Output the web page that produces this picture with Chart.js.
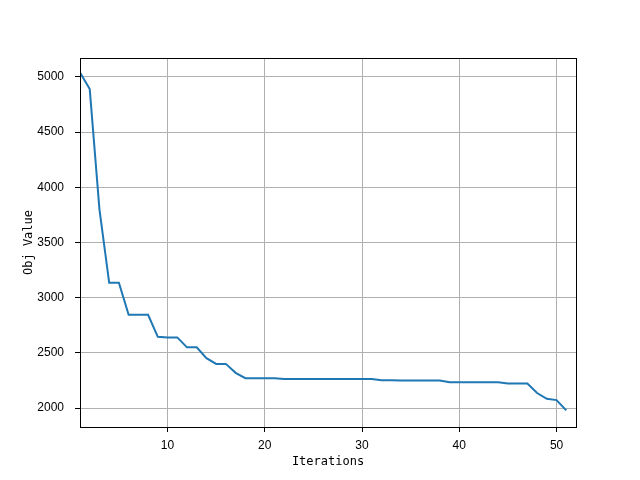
<!DOCTYPE html>
<html>
<head>
<meta charset="utf-8">
<script src="https://cdn.jsdelivr.net/npm/chart.js@4/dist/chart.umd.min.js"></script>
<style>
  html, body { margin: 0; padding: 0; background: #fff; }
  #wrap { width: 640px; height: 480px; }
</style>
</head>
<body>
<div id="wrap"><canvas id="chart-obj" width="640" height="480"></canvas></div>
<script>
// data
const iterations = [1,2,3,4,5,6,7,8,9,10,11,12,13,14,15,16,17,18,19,20,21,22,23,24,25,26,27,28,29,30,31,32,33,34,35,36,37,38,39,40,41,42,43,44,45,46,47,48,49,50,51];
const objValues = [5040,4890,3800,3135,3135,2845,2845,2845,2645,2640,2640,2550,2550,2452,2400,2400,2319,2270,2270,2270,2270,2264,2264,2264,2264,2264,2264,2264,2262,2262,2262,2252,2252,2250,2250,2250,2250,2250,2233,2233,2233,2233,2233,2233,2222,2222,2222,2136,2084,2072,1979];
const xTicks = [10, 20, 30, 40, 50];
const yTicks = [2000, 2500, 3000, 3500, 4000, 4500, 5000];

const tickFont = { family: "'Liberation Sans Narrow', 'Liberation Sans', sans-serif", size: 12 };
const labelFont = { family: "'DejaVu Sans Mono', monospace", size: 12 };

// matplotlib-style box round the plot
const frame = {
  id: 'frame',
  afterDraw(chart) {
    const { ctx, chartArea: a } = chart;
    ctx.save();
    ctx.strokeStyle = '#000';
    ctx.lineWidth = 1;
    ctx.strokeRect(Math.round(a.left) + 0.5, Math.round(a.top) + 0.5, Math.round(a.right - a.left), Math.round(a.bottom - a.top));
    ctx.restore();
  }
};

const ctx = document.getElementById("chart-obj").getContext("2d");
new Chart(ctx, {
  type: "line",
  data: {
    labels: iterations,
    datasets: [{
      label: "Obj Value",
      data: iterations.map((x, i) => ({ x: x, y: objValues[i] })),
      borderColor: "#1f77b4",
      borderWidth: 2,
      pointRadius: 0,
      tension: 0,
      fill: false
    }]
  },
  options: {
    responsive: false,
    animation: false,
    layout: { padding: { top: 58, right: 64, left: 22, bottom: 0 } },
    plugins: { legend: { display: false }, tooltip: { enabled: false } },
    scales: {
      x: {
        type: "linear",
        min: 1,
        max: 52,
        afterBuildTicks: (s) => { s.ticks = xTicks.map(v => ({ value: v })); },
        afterFit: (s) => { s.height = 53; },
        grid: { color: "#b0b0b0", tickColor: "#000", tickLength: 5, lineWidth: 1 },
        border: { display: true, color: "#000" },
        ticks: { color: "#000", font: tickFont, padding: 6, maxRotation: 0, callback: (v) => String(v) },
        title: { display: true, text: "Iterations", color: "#000", font: labelFont, padding: { top: 2, bottom: 11 } }
      },
      y: {
        min: 1828,
        max: 5172,
        afterBuildTicks: (s) => { s.ticks = yTicks.map(v => ({ value: v })); },
        afterFit: (s) => { s.width = 58; },
        grid: { color: "#b0b0b0", tickColor: "#000", tickLength: 5, lineWidth: 1 },
        border: { display: true, color: "#000" },
        ticks: { color: "#000", font: tickFont, padding: 11, callback: (v) => String(v) },
        title: { display: true, text: "Obj Value", color: "#000", font: labelFont, padding: { top: 0, bottom: 0 } }
      }
    }
  },
  plugins: [frame]
});
</script>
</body>
</html>
